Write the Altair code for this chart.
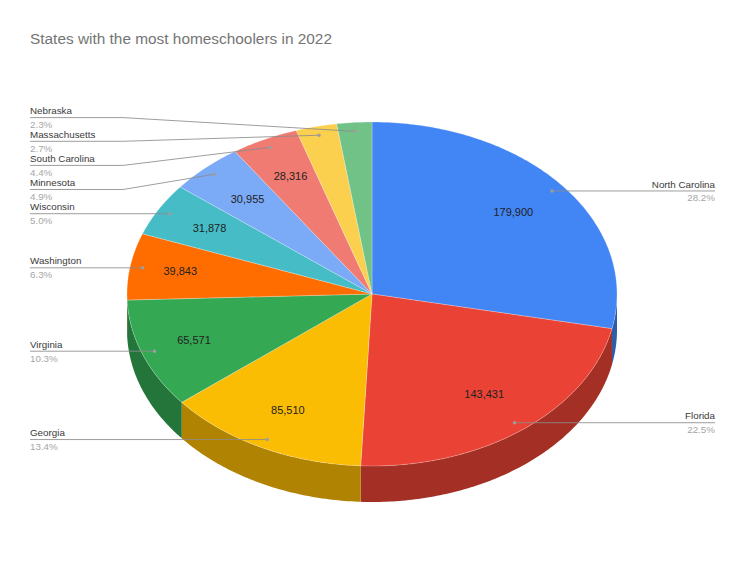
import math
import altair as alt
import pandas as pd

# ---- values ----
states = ["North Carolina", "Florida", "Georgia", "Virginia", "Washington",
          "Wisconsin", "Minnesota", "South Carolina", "Massachusetts", "Nebraska"]
homeschoolers = [179900, 143431, 85510, 65571, 39843, 31878, 30955, 28316, 17200, 14700]
slice_colors = ["#4285F4", "#EA4335", "#FBBC04", "#34A853", "#FF6D01",
                "#46BDC6", "#7BAAF7", "#F07B72", "#FCD04F", "#71C287"]
side_colors = ["#2E5DAB", "#A42F25", "#B08303", "#24753A", "#B24C01",
               "#31848A", "#5677AD", "#A85650", "#B09237", "#4F885E"]
title_text = "States with the most homeschoolers in 2022"
# states whose value is printed on the slice
labelled_count = 8

# ---- layout (chart pixels: the page adds an 8px margin) ----
W, H = 728, 571
OFF = 8
CX, CY = 372 - OFF, 294 - OFF
RX, RY = 245, 172
DEPTH = 36
LEFT_X, RIGHT_X = 30 - OFF, 715 - OFF
ELBOW_X = 123 - OFF
# callout heights moved off their slice to keep the left-hand labels apart
moved_callouts = {"Nebraska": 117.6 - OFF, "Massachusetts": 141.3 - OFF,
                  "South Carolina": 165.4 - OFF, "Minnesota": 189.5 - OFF}
# how far along its slice's radius each printed value sits
value_radius = {"North Carolina": 0.744, "Florida": 0.746, "Georgia": 0.762,
                "Virginia": 0.776, "Washington": 0.793, "Wisconsin": 0.762,
                "Minnesota": 0.748, "South Carolina": 0.758}

total = sum(homeschoolers)


def pt(a, f=1.0, dy=0.0):
    return [CX + RX * f * math.sin(a), CY - RY * f * math.cos(a) + dy]


def arc(a0, a1, dy=0.0):
    n = max(2, int(abs(a1 - a0) / math.radians(0.75)))
    return [pt(a0 + (a1 - a0) * i / n, 1.0, dy) for i in range(n + 1)]


def feature(ring, color):
    return {"type": "Feature", "properties": {"color": color},
            "geometry": {"type": "Polygon", "coordinates": [ring + [ring[0]]]}}


tops, walls, rows, leaders = [], [], [], []
start = 0.0
for i, (s, v) in enumerate(zip(states, homeschoolers)):
    a0 = start
    a1 = start + 2 * math.pi * v / total
    start = a1
    mid = (a0 + a1) / 2
    tops.append(feature([[CX, CY]] + arc(a0, a1), slice_colors[i]))
    w0, w1 = max(a0, math.pi / 2), min(a1, 3 * math.pi / 2)
    if w1 > w0:
        front = arc(w0, w1)
        walls.append(feature(front + arc(w1, w0, DEPTH), side_colors[i]))

    ax, ay = pt(mid, 0.948)
    vx, vy = pt(mid, value_radius.get(s, 0.75))
    right = ax > CX
    ly = moved_callouts.get(s, ay)
    ex = RIGHT_X if right else LEFT_X
    rows.append({
        "state": s, "pct": f"{100 * v / total:.1f}%",
        "value": f"{v:,}" if i < labelled_count else "",
        "ax": ax, "ay": ay, "vx": vx, "vy": vy,
        "tx": ex, "ly": ly, "align": "right" if right else "left",
    })
    path = [(ex, ly), (ax, ay)]
    if s in moved_callouts:
        path = [(ex, ly), (ELBOW_X, ly), (ax, ay)]
    for k, (px, py) in enumerate(path):
        leaders.append({"state": s, "k": k, "x": px, "y": py})

df = pd.DataFrame(rows)
xs = alt.Scale(domain=[0, W], range=[0, W])
ys = alt.Scale(domain=[0, H], range=[0, H])
proj = alt.Projection(type="identity", scale=1, translate=[0, 0])


def X(f):
    return alt.X(f, type="quantitative", scale=xs, axis=None)


def Y(f):
    return alt.Y(f, type="quantitative", scale=ys, axis=None)


def shapes(features, **kw):
    return (alt.Chart(alt.InlineData(values=features))
            .mark_geoshape(**kw)
            .encode(fill=alt.Fill("properties.color:N", scale=None, legend=None))
            .project(**proj.to_dict()))


wall_layer = shapes(walls, strokeWidth=0)
top_layer = shapes(tops, stroke="#ffffff", strokeWidth=0.35, strokeOpacity=0.7)

leader_layer = (alt.Chart(pd.DataFrame(leaders))
                .mark_line(color="#8c8c8c", strokeWidth=1, opacity=0.85)
                .encode(x=X("x"), y=Y("y"), detail="state:N", order="k:Q"))
dot_layer = (alt.Chart(df).mark_circle(color="#9e9e9e", size=12, opacity=1)
             .encode(x=X("ax"), y=Y("ay")))

FONT = "Liberation Sans"


def callouts(align):
    d = df[df["align"] == align]
    name = (alt.Chart(d)
            .mark_text(font=FONT, fontSize=9.8, color="#3a3a3a", align=align,
                       baseline="alphabetic", dy=-3.4)
            .encode(x=X("tx"), y=Y("ly"), text="state:N"))
    pct = (alt.Chart(d)
           .mark_text(font=FONT, fontSize=9.8, color="#a6a6a6", align=align,
                      baseline="alphabetic", dy=10.4)
           .encode(x=X("tx"), y=Y("ly"), text="pct:N"))
    return [name, pct]


value_layer = (alt.Chart(df[df["value"] != ""])
               .mark_text(font=FONT, fontSize=11, color="#222222", align="center",
                          baseline="middle")
               .encode(x=X("vx"), y=Y("vy"), text="value:N"))

title_layer = (alt.Chart(pd.DataFrame({"t": [title_text], "x": [30 - OFF], "y": [39 - OFF]}))
               .mark_text(font=FONT, fontSize=15.4, color="#757575", align="left",
                          baseline="middle")
               .encode(x=X("x"), y=Y("y"), text="t:N"))

chart = (alt.layer(wall_layer, top_layer, leader_layer, dot_layer,
                   *callouts("left"), *callouts("right"), value_layer, title_layer)
         .properties(width=W, height=H, padding=0, background="#ffffff",
                     autosize=alt.AutoSizeParams(type="none"))
         .configure_view(stroke=None))

chart.save("out.html", embed_options={"renderer": "svg", "actions": False})
